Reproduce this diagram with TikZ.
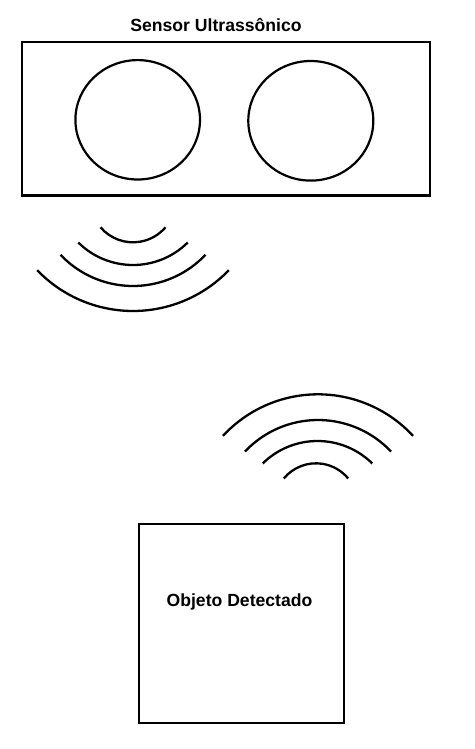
\documentclass[tikz,border=0pt]{standalone}
\usepackage{fontspec}
\setmainfont{Liberation Sans}
\begin{document}
\begin{tikzpicture}[x=1pt,y=-1pt,
  shape line/.style={draw=black,line width=2.2pt},
  wave/.style={draw=black,line width=2.3pt},
  label text/.style={font=\fontsize{17.6}{20}\selectfont\bfseries,anchor=base,inner sep=0pt}]
\useasboundingbox (0,0) rectangle (474,749);
\newcommand\wavedown[4]{\path[wave] ([shift={({90+#4}:#3)}]#1,#2) arc[start angle={90+#4}, end angle={90-#4}, radius=#3];}
\newcommand\waveup[4]{\path[wave] ([shift={({270-#4}:#3)}]#1,#2) arc[start angle={270-#4}, end angle={270+#4}, radius=#3];}
% sensor
\node[label text] (title) at (216,31.7) {Sensor Ultrassônico};
\path[shape line] (22,42) rectangle (430,195.5);
\coordinate (sensor) at (226,118.7);
\path[shape line] (137.7,119.8) ellipse [x radius=62.3, y radius=59.7];
\path[shape line] (310.8,120.8) ellipse [x radius=62.5, y radius=59.8];
% emitted waves
\wavedown{133}{199.6}{42.7}{49.6}
\wavedown{133}{187.2}{77.8}{44.7}
\wavedown{133}{186.2}{99.8}{46.6}
\wavedown{133}{178.1}{132.9}{46.1}
% reflected waves
\waveup{318}{523.8}{129.5}{47.2}
\waveup{318}{520.3}{100.3}{46.7}
\waveup{317.5}{519}{78}{44.6}
\waveup{316}{505}{41.7}{50.5}
% object
\path[shape line] (139,524) rectangle (344,723.3);
\node[label text] (obj) at (239.5,606.7) {Objeto Detectado};
\end{tikzpicture}
\end{document}
